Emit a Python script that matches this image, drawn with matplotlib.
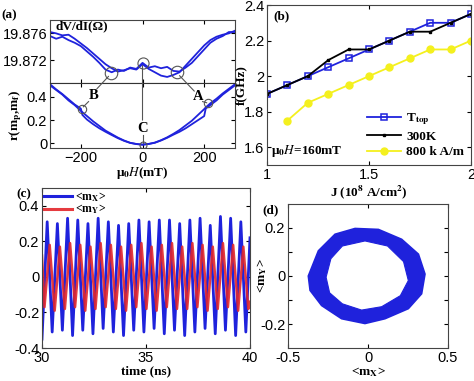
import matplotlib
matplotlib.use("Agg")
import matplotlib.pyplot as plt
from matplotlib.patches import ConnectionPatch

plt.rcParams['font.family'] = ['Liberation Sans', 'DejaVu Sans']
plt.rcParams['mathtext.fontset'] = 'stix'
plt.rcParams['xtick.direction'] = 'in'
plt.rcParams['ytick.direction'] = 'in'
plt.rcParams['xtick.top'] = True
plt.rcParams['ytick.right'] = True
plt.rcParams['xtick.major.size'] = 3
plt.rcParams['ytick.major.size'] = 3
plt.rcParams['axes.linewidth'] = 0.8
plt.rcParams['axes.edgecolor'] = '#444444'

# ---- (a) dV/dI and r(mp,mf) versus field ----
h_dv = [-300, -280, -260, -240, -220, -200, -180, -160, -140, -120, -100, -80, -60, -40, -20,
        0, 20, 40, 60, 80, 100, 120, 140, 160, 180, 200, 220, 240, 260, 280, 300]
dv_sweep1 = [19.8762, 19.8760, 19.8757, 19.8758, 19.8752, 19.8745, 19.8738, 19.8730, 19.8722,
             19.8714, 19.8708, 19.8703, 19.8705, 19.8708, 19.8706, 19.8714, 19.8707, 19.8702,
             19.8697, 19.8695, 19.8698, 19.8702, 19.8712, 19.8722, 19.8732, 19.8742, 19.8750,
             19.8755, 19.8758, 19.8760, 19.8764]
dv_sweep2 = [19.8756, 19.8752, 19.8755, 19.8750, 19.8746, 19.8741, 19.8733, 19.8725, 19.8716,
             19.8706, 19.8702, 19.8706, 19.8704, 19.8709, 19.8707, 19.8716, 19.8709, 19.8711,
             19.8708, 19.8710, 19.8704, 19.8703, 19.8709, 19.8716, 19.8726, 19.8736, 19.8746,
             19.8752, 19.8756, 19.8762, 19.8762]

h_up = [-300, -280, -260, -240, -220, -200, -180, -160, -140, -120, -100, -80, -60, -40, -20,
        0, 20, 40, 60, 80, 100, 120, 140, 160, 180, 200, 205, 220, 240, 260, 280, 300]
r_up = [0.50, 0.46, 0.42, 0.37, 0.33, 0.28, 0.235, 0.19, 0.15, 0.11, 0.08, 0.05, 0.025, 0.005,
        -0.005, -0.01, -0.005, 0.005, 0.025, 0.048, 0.075, 0.10, 0.13, 0.165, 0.20, 0.235, 0.30,
        0.33, 0.37, 0.42, 0.46, 0.50]
h_down = [300, 280, 260, 240, 220, 205, 200, 180, 160, 140, 120, 100, 80, 60, 40, 20,
          0, -20, -40, -60, -80, -100, -120, -140, -160, -180, -195, -200, -220, -240, -260, -280, -300]
r_down = [0.51, 0.47, 0.43, 0.385, 0.345, 0.31, 0.295, 0.245, 0.195, 0.155, 0.115, 0.082, 0.052,
          0.027, 0.007, -0.005, -0.012, -0.006, 0.004, 0.022, 0.045, 0.072, 0.10, 0.13, 0.165,
          0.205, 0.245, 0.30, 0.335, 0.38, 0.425, 0.465, 0.51]

# ---- (b) frequency versus current density ----
j_vals = [1.0, 1.1, 1.2, 1.3, 1.4, 1.5, 1.6, 1.7, 1.8, 1.9, 2.0]
f_ttop = [1.90, 1.95, 2.00, 2.05, 2.10, 2.15, 2.20, 2.25, 2.30, 2.30, 2.35]
f_300k = [1.90, 1.95, 2.00, 2.09, 2.15, 2.15, 2.20, 2.25, 2.25, 2.30, 2.35]
j_800 = [1.1, 1.2, 1.3, 1.4, 1.5, 1.6, 1.7, 1.8, 1.9, 2.0]
f_800 = [1.75, 1.85, 1.90, 1.95, 2.00, 2.05, 2.10, 2.15, 2.15, 2.20]

# ---- (c) time traces (extrema) ----
t_mx = [30.00, 30.25, 30.49, 30.74, 30.98, 31.23, 31.47, 31.72, 31.96, 32.21, 32.45, 32.70,
        32.94, 33.19, 33.43, 33.68, 33.92, 34.17, 34.41, 34.66, 34.90, 35.15, 35.39, 35.64,
        35.88, 36.13, 36.37, 36.62, 36.86, 37.11, 37.35, 37.60, 37.84, 38.09, 38.33, 38.58,
        38.82, 39.07, 39.31, 39.56, 39.80, 40.00]
mx = [-0.35, 0.31, -0.31, 0.30, -0.30, 0.33, -0.33, 0.32, -0.30, 0.30, -0.32, 0.33, -0.29,
      0.31, -0.31, 0.29, -0.33, 0.30, -0.30, 0.32, -0.31, 0.31, -0.29, 0.32, -0.32, 0.32,
      -0.30, 0.30, -0.33, 0.32, -0.31, 0.33, -0.29, 0.29, -0.32, 0.34, -0.30, 0.33, -0.33,
      0.31, -0.31, 0.22]
t_my = [30.00, 30.12, 30.37, 30.61, 30.86, 31.10, 31.35, 31.59, 31.84, 32.08, 32.33, 32.57,
        32.82, 33.06, 33.31, 33.55, 33.80, 34.04, 34.29, 34.53, 34.78, 35.02, 35.27, 35.51,
        35.76, 36.00, 36.25, 36.49, 36.74, 36.98, 37.23, 37.47, 37.72, 37.96, 38.21, 38.45,
        38.70, 38.94, 39.19, 39.43, 39.68, 39.92, 40.00]
my = [0.12, -0.17, 0.18, -0.19, 0.17, -0.18, 0.19, -0.17, 0.18, -0.19, 0.17, -0.18, 0.19,
      -0.17, 0.18, -0.18, 0.17, -0.19, 0.18, -0.17, 0.19, -0.18, 0.17, -0.19, 0.18, -0.17,
      0.19, -0.18, 0.17, -0.18, 0.19, -0.17, 0.18, -0.19, 0.17, -0.18, 0.19, -0.17, 0.18,
      -0.19, 0.17, -0.18, -0.14]

# ---- (d) trajectory band (outer / inner edge) ----
ring_out_x = [-0.373, -0.31, -0.206, -0.081, 0.065, 0.21, 0.315, 0.356, 0.335, 0.252, 0.106,
              -0.019, -0.165, -0.29, -0.362, -0.373]
ring_out_y = [0.0, 0.105, 0.174, 0.198, 0.194, 0.153, 0.091, 0.008, -0.074, -0.136, -0.178,
              -0.198, -0.178, -0.123, -0.06, 0.0]
ring_in_x = [-0.262, -0.232, -0.160, -0.019, 0.122, 0.222, 0.252, 0.202, 0.085, -0.04, -0.160,
             -0.240, -0.262]
ring_in_y = [-0.005, 0.072, 0.125, 0.146, 0.125, 0.060, -0.019, -0.082, -0.128, -0.142, -0.116,
             -0.070, -0.005]

blue = '#1f22dc'
red = '#e3262a'
yellow = '#f4f01e'
grey = '#555555'
lab = dict(family=['Liberation Serif', 'DejaVu Serif'], fontweight='bold', fontsize=9.5)
tick_fs = 10.5

fig = plt.figure(figsize=(4.74, 3.81), dpi=100)

# panel a
ax_top = fig.add_axes([0.1055, 0.7822, 0.3903, 0.1654])
ax_bot = fig.add_axes([0.1055, 0.6115, 0.3903, 0.1706])
ax_top.plot(h_dv, dv_sweep1, color=blue, lw=1.3)
ax_top.plot(h_dv, dv_sweep2, color=blue, lw=1.3)
ax_top.set_xlim(-300, 300)
ax_top.set_ylim(19.8686, 19.8780)
ax_top.set_xticks([-200, 0, 200])
ax_top.set_xticklabels([])
ax_top.set_yticks([19.872, 19.876])
ax_top.set_yticklabels(['19.872', '19.876'])
ax_top.tick_params(labelsize=tick_fs, pad=2)
ax_top.text(0.03, 0.99, 'dV/dI(Ω)', transform=ax_top.transAxes, va='top', ha='left', **lab)

ax_bot.plot(h_up, r_up, color=blue, lw=1.3)
ax_bot.plot(h_down, r_down, color=blue, lw=1.3)
ax_bot.set_xlim(-300, 300)
ax_bot.set_ylim(-0.04, 0.52)
ax_bot.set_xticks([-200, 0, 200])
ax_bot.set_yticks([0, 0.2, 0.4])
ax_bot.set_yticklabels(['0', '0.2', '0.4'])
ax_bot.tick_params(labelsize=tick_fs, pad=2)
ax_bot.spines['top'].set_color('#333333')
ax_bot.set_ylabel(r'r(m$_\mathbf{p}$,m$_\mathbf{f}$)', labelpad=2, **lab)
ax_bot.set_xlabel(r'μ$_\mathbf{0}$$\mathit{H}$(mT)', labelpad=0, **lab)

# annotation circles and leader lines
circ = dict(marker='o', mfc='none', mec=grey, mew=0.8, ls='none')
ax_top.plot([-103], [19.8701], ms=9, **circ)
ax_top.plot([113], [19.8702], ms=9, **circ)
ax_top.plot([0], [19.8716], ms=8, **circ)
ax_bot.plot([-197], [0.30], ms=6, **circ)
ax_bot.plot([213], [0.345], ms=6, **circ)
ax_bot.plot([0], [-0.012], ms=5, **circ)
for xa, ya, xb, yb in [(-110, 19.8696, -148, 0.47), (120, 19.8697, 168, 0.45), (0, 19.8712, 0, 0.2)]:
    con = ConnectionPatch(xyA=(xa, ya), coordsA=ax_top.transData, xyB=(xb, yb),
                          coordsB=ax_bot.transData, color=grey, lw=0.8)
    fig.add_artist(con)
ax_bot.plot([-175, -192], [0.36, 0.315], color=grey, lw=0.8)
ax_bot.plot([195, 208], [0.36, 0.35], color=grey, lw=0.8)
ax_bot.plot([0, 0], [0.075, 0.005], color=grey, lw=0.8)
lab_abc = dict(lab, fontsize=10.5)
ax_bot.text(-160, 0.41, 'B', ha='center', va='center', **lab_abc)
ax_bot.text(182, 0.40, 'A', ha='center', va='center', **lab_abc)
ax_bot.text(0, 0.13, 'C', ha='center', va='center', **lab_abc)
fig.text(0.002, 0.975, '(a)', ha='left', va='top', **lab)

# panel b
ax_b = fig.add_axes([0.5633, 0.5669, 0.4304, 0.4199])
ax_b.plot(j_vals, f_ttop, color=blue, lw=1.3, marker='s', ms=5, mfc='none', mew=1.1,
          label=r'T$_\mathbf{top}$')
ax_b.plot(j_vals, f_300k, color='black', lw=1.3, marker='s', ms=2.0, label='300K')
ax_b.plot(j_800, f_800, color=yellow, lw=1.3, marker='o', ms=5, label='800 k A/m')
ax_b.set_xlim(1, 2)
ax_b.set_ylim(1.5, 2.4)
ax_b.set_xticks([1, 1.5, 2])
ax_b.set_xticklabels(['1', '1.5', '2'])
ax_b.set_yticks([1.6, 1.8, 2.0, 2.2, 2.4])
ax_b.set_yticklabels(['1.6', '1.8', '2', '2.2', '2.4'])
ax_b.tick_params(labelsize=tick_fs, pad=2)
ax_b.set_ylabel('f(GHz)', **lab)
ax_b.yaxis.set_label_coords(-0.095, 0.5)
ax_b.set_xlabel(r'J (10$^\mathbf{8}$ A/cm$^\mathbf{2}$)', labelpad=1, **lab)
ax_b.legend(loc='lower right', frameon=False, prop=dict(family='Liberation Serif', weight='bold', size=9.5),
            handlelength=2.6, handletextpad=0.4, labelspacing=0.25, borderaxespad=0.1)
ax_b.text(0.02, 0.04, r'μ$_\mathbf{0}$$\mathit{H}$=160mT', transform=ax_b.transAxes,
          ha='left', va='bottom', **lab)
ax_b.text(0.03, 0.97, '(b)', transform=ax_b.transAxes, ha='left', va='top', **lab)

# panel c
ax_c = fig.add_axes([0.0886, 0.0866, 0.4388, 0.4199])
ax_c.plot(t_mx, mx, color=blue, lw=2.0, solid_joinstyle='round', label=r'<m$_\mathbf{X}$>')
ax_c.plot(t_my, my, color=red, lw=1.8, alpha=0.9, solid_joinstyle='round', label=r'<m$_\mathbf{Y}$>')
ax_c.set_xlim(30, 40)
ax_c.set_ylim(-0.4, 0.5)
ax_c.set_xticks([30, 35, 40])
ax_c.set_yticks([-0.4, -0.2, 0, 0.2, 0.4])
ax_c.set_yticklabels(['-0.4', '-0.2', '0', '0.2', '0.4'])
ax_c.tick_params(labelsize=tick_fs, pad=2)
ax_c.set_xlabel('time (ns)', labelpad=0, **lab)
leg = ax_c.legend(loc='upper left', frameon=False, prop=dict(family='Liberation Serif', weight='bold', size=8.5),
                  handlelength=2.3, handletextpad=0.3, labelspacing=-0.1, borderaxespad=0.0,
                  borderpad=0.2)
for line in leg.get_lines():
    line.set_linewidth(2.2)
fig.text(0.035, 0.505, '(c)', ha='left', va='top', **lab)

# panel d
ax_d = fig.add_axes([0.6076, 0.0866, 0.3376, 0.378])
ax_d.fill(ring_out_x, ring_out_y, color=blue, ec=blue, lw=1.2)
ax_d.fill(ring_in_x, ring_in_y, color='white', ec=blue, lw=0.8)
ax_d.set_xlim(-0.5, 0.5)
ax_d.set_ylim(-0.3, 0.3)
ax_d.set_xticks([-0.5, 0, 0.5])
ax_d.set_xticklabels(['-0.5', '0', '0.5'])
ax_d.set_yticks([-0.2, -0.1, 0, 0.1, 0.2])
ax_d.set_yticklabels(['-0.2', '', '0', '', '0.2'])
ax_d.tick_params(labelsize=tick_fs, pad=2)
ax_d.set_xlabel(r'<m$_\mathbf{X}$>', labelpad=0, **lab)
ax_d.set_ylabel(r'<m$_\mathbf{Y}$>', **lab)
ax_d.yaxis.set_label_coords(-0.12, 0.5)
fig.text(0.553, 0.465, '(d)', ha='left', va='top', **lab)

fig.savefig('out.png', dpi=100)
